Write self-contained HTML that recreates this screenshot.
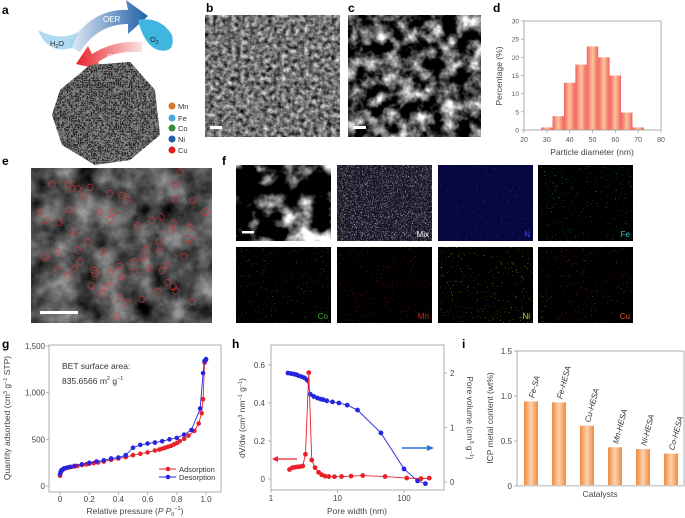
<!DOCTYPE html>
<html><head><meta charset="utf-8"><style>
html,body{margin:0;padding:0;background:#fff}
svg{display:block;font-family:"Liberation Sans",sans-serif}
filter{color-interpolation-filters:sRGB}
</style></head><body>
<svg id="fig" width="685" height="518" viewBox="0 0 685 518" xmlns="http://www.w3.org/2000/svg">
<defs>
<filter id="semB" x="0" y="0" width="100%" height="100%" color-interpolation-filters="sRGB"><feTurbulence type="fractalNoise" baseFrequency="0.22" numOctaves="3" seed="3"/><feColorMatrix type="matrix" values="1.0 0.5 0 0 -0.3  1.0 0.5 0 0 -0.3  1.0 0.5 0 0 -0.3  0 0 0 0 1"/></filter>
<filter id="semC" x="0" y="0" width="100%" height="100%" color-interpolation-filters="sRGB"><feTurbulence type="fractalNoise" baseFrequency="0.07" numOctaves="4" seed="8"/><feColorMatrix type="matrix" values="2 1 0 0 -1.2  2 1 0 0 -1.2  2 1 0 0 -1.2  0 0 0 0 1"/></filter>
<filter id="semE" x="0" y="0" width="100%" height="100%" color-interpolation-filters="sRGB"><feTurbulence type="fractalNoise" baseFrequency="0.04" numOctaves="4" seed="5"/><feColorMatrix type="matrix" values="0.8 0.3 0 0 -0.22  0.8 0.3 0 0 -0.22  0.8 0.3 0 0 -0.22  0 0 0 0 1"/></filter>
<filter id="semF" x="0" y="0" width="100%" height="100%" color-interpolation-filters="sRGB"><feTurbulence type="fractalNoise" baseFrequency="0.035" numOctaves="4" seed="11"/><feColorMatrix type="matrix" values="3.5 1 0 0 -2.1  3.5 1 0 0 -2.1  3.5 1 0 0 -2.1  0 0 0 0 1"/></filter>
<filter id="dots" x="0" y="0" width="100%" height="100%" color-interpolation-filters="sRGB"><feTurbulence type="turbulence" baseFrequency="0.8" numOctaves="1" seed="2"/><feColorMatrix type="matrix" values="0 0 0 0 1  0 0 0 0 1  0 0 0 0 1  8 0 0 0 -3.6"/></filter>
<filter id="mix" x="0" y="0" width="100%" height="100%" color-interpolation-filters="sRGB"><feTurbulence type="turbulence" baseFrequency="0.9" numOctaves="1" seed="4"/><feColorMatrix type="matrix" values="0 0 0 0 0.85  0 0 0 0 0.85  0 0 0 0 1  5 0 0 0 -1.2"/></filter>
<filter id="mol" x="0" y="0" width="100%" height="100%" color-interpolation-filters="sRGB"><feTurbulence type="turbulence" baseFrequency="0.45" numOctaves="2" seed="6"/><feColorMatrix type="matrix" values="0 0 0 0 0.15  0 0 0 0 0.15  0 0 0 0 0.15  4 0 0 0 -0.5"/></filter>
<linearGradient id="barD" x1="0" x2="1"><stop offset="0" stop-color="#f46060"/><stop offset="0.5" stop-color="#fbc79a"/><stop offset="1" stop-color="#f46060"/></linearGradient>
<linearGradient id="barI" x1="0" x2="1"><stop offset="0" stop-color="#f08a3c"/><stop offset="0.5" stop-color="#fbd2b0"/><stop offset="1" stop-color="#f08a3c"/></linearGradient>
<linearGradient id="oer" x1="0" x2="1"><stop offset="0" stop-color="#e8eef6"/><stop offset="1" stop-color="#1f5ea8"/></linearGradient>
<linearGradient id="orr" x1="1" x2="0"><stop offset="0" stop-color="#fbe3e3"/><stop offset="1" stop-color="#e8222a"/></linearGradient>
<clipPath id="molclip"><polygon points="60,90 90,65 130,62 155,90 160,135 130,160 95,165 62,145 52,115"/></clipPath>
<clipPath id="eclip"><rect x="31" y="168" width="181" height="155"/></clipPath>
</defs>

<g font-weight="bold" font-size="12">
<text x="2" y="14">a</text><text x="206" y="12">b</text><text x="348" y="12">c</text><text x="493" y="12">d</text>
<text x="2" y="165">e</text><text x="222" y="165">f</text>
<text x="2" y="348">g</text><text x="232" y="348">h</text><text x="462" y="348">i</text>
</g>

<g>
<path d="M68,46 Q92,8 128,10 L126,0 L148,16 L128,34 L128,24 Q98,24 80,52 Z" fill="url(#oer)"/>
<path d="M142,52 Q115,50 98,62 L102,70 L76,64 L88,46 L92,54 Q115,40 142,42 Z" fill="url(#orr)"/>
<path d="M38,30 Q48,55 72,48 L78,32 Q60,42 38,30Z" fill="#9cd0ef" opacity="0.8"/>
<path d="M138,20 Q160,16 172,35 Q176,54 158,50 Q144,45 138,20Z" fill="#3fb6e0"/>
<text x="103" y="22" font-size="8" fill="#fff">OER</text>
<text x="107" y="60" font-size="8" fill="#fff">ORR</text>
<text x="50" y="46" font-size="7.5" fill="#333">H<tspan font-size="5" dy="2">2</tspan><tspan dy="-2">O</tspan></text>
<text x="150" y="42" font-size="7.5" fill="#222">O<tspan font-size="5" dy="2">2</tspan></text>
<g clip-path="url(#molclip)"><rect x="50" y="60" width="112" height="106" fill="#8a8a8a"/><rect x="50" y="60" width="112" height="106" filter="url(#mol)"/></g>
<g font-size="7.5" fill="#333">
<circle cx="172" cy="106" r="3.5" fill="#d8772e"/><text x="178" y="109">Mn</text>
<circle cx="172" cy="118" r="3.5" fill="#4aa8dc"/><text x="178" y="121">Fe</text>
<circle cx="172" cy="128" r="3.5" fill="#3a8c3a"/><text x="178" y="131">Co</text>
<circle cx="172" cy="139" r="3.5" fill="#1e5fa8"/><text x="178" y="142">Ni</text>
<circle cx="172" cy="150" r="3.5" fill="#e11a1a"/><text x="178" y="153">Cu</text>
</g>
</g>

<g><rect x="205" y="15" width="135" height="122" filter="url(#semB)"/><rect x="210" y="126" width="12" height="3" fill="#fff"/></g>
<g><rect x="348" y="15" width="133" height="122" filter="url(#semC)"/><rect x="353" y="126" width="13" height="3" fill="#fff"/></g>

<g><rect x="31" y="168" width="181" height="155" filter="url(#semE)"/><g id="ecircles" clip-path="url(#eclip)" fill="none" stroke="#e33" stroke-width="0.9" stroke-dasharray="1.5,1"></g><rect x="40" y="311" width="38" height="3" fill="#fff"/></g>

<g id="fpanels"></g>

<g id="charts"></g>
</svg>
<script>
// ---- data ----
const histBins = [30,35,40,45,50,55,60,65,70];
const histVals = [0.7,3.8,13,18,23,20,15,4.8,0.7];
const dYTicks = [0,5,10,15,20,25,30];
const dXTicks = [20,30,40,50,60,70,80];

const adsP = [0,0.005,0.01,0.02,0.04,0.06,0.08,0.1,0.12,0.15,0.18,0.2,0.23,0.26,0.3,0.35,0.4,0.45,0.5,0.55,0.6,0.65,0.68,0.7,0.72,0.74,0.76,0.78,0.8,0.82,0.85,0.88,0.92,0.95,0.97,0.98,0.99,1.0];
const adsQ = [110,140,160,175,190,200,205,210,215,225,232,238,245,252,262,280,295,310,330,345,360,380,390,400,410,420,430,445,460,480,505,540,590,670,780,930,1320,1350];
const desP = [1.0,0.99,0.98,0.96,0.9,0.85,0.8,0.75,0.7,0.65,0.6,0.55,0.5,0.45,0.4,0.35,0.3,0.25,0.2,0.15,0.1,0.07,0.05,0.03,0.02,0.01,0.005,0];
const desQ = [1360,1340,1210,830,600,550,515,500,480,465,455,440,410,330,305,295,275,262,248,232,215,205,198,190,180,170,155,130];
const gYTicks = [0,500,1000,1500];
const gYLabels = ["0","500","1,000","1,500"];
const gXTicks = [0,0.2,0.4,0.6,0.8,1.0];
const gXLabels = ["0","0.2","0.4","0.6","0.8","1.0"];

const psdW = [1.9,2.1,2.3,2.5,2.7,3.0,3.3,3.7,4.1,4.6,5.2,5.8,6.5,7.4,9,11.5,16,24,52,110,180,240];
const psdV = [0.05,0.06,0.062,0.064,0.065,0.068,0.13,0.56,0.1,0.06,0.035,0.022,0.015,0.013,0.012,0.013,0.015,0.018,0.013,0.005,0.002,0.005];
const pvW = [1.8,2.0,2.2,2.4,2.6,2.9,3.2,3.5,3.9,4.4,5.0,5.6,6.1,6.9,8.4,10.5,14,20,45,100,160,210];
const pvV = [2.0,1.99,1.98,1.97,1.95,1.93,1.91,1.87,1.61,1.57,1.54,1.52,1.51,1.49,1.47,1.45,1.41,1.32,0.9,0.24,0.02,-0.03];
const hYTicks = [0,0.2,0.4,0.6];
const hYLabels = ["0","0.2","0.4","0.6"];
const hRTicks = [0,1,2];
const hXTicks = [1,10,100];

const catNames = ["Fe-SA","Fe-HESA","Cu-HESA","Mn-HESA","Ni-HESA","Co-HESA"];
const catVals = [0.94,0.93,0.67,0.43,0.41,0.36];
const iYTicks = [0,0.5,1.0,1.5];
const iYLabels = ["0","0.5","1.0","1.5"];

const NS = "http://www.w3.org/2000/svg";
const root = document.getElementById('charts');
function mk(tag, attrs, parent, text){
  const e = document.createElementNS(NS, tag);
  for (const k in attrs) e.setAttribute(k, attrs[k]);
  if (text !== undefined) e.textContent = text;
  (parent || root).appendChild(e);
  return e;
}
function grp(name){ const g = mk('g', {});   return g; }

const ec = document.getElementById('ecircles');
[[180,181],[175,196],[52,197],[68,197],[72,202],[78,202],[90,200],[110,208],[122,210],[128,216],[84,212],[176,215],[193,216],[205,231],[40,232],[69,228],[113,231],[100,232],[45,242],[59,244],[152,242],[161,237],[138,248],[110,241],[173,245],[172,255],[190,250],[73,256],[88,269],[159,268],[189,265],[57,280],[78,279],[103,280],[146,278],[160,280],[184,287],[45,287],[80,293],[134,293],[143,288],[134,305],[58,303],[94,304],[119,299],[149,301],[162,304],[168,298],[121,312],[168,319],[103,324],[91,323],[112,323],[102,334],[142,340],[120,339],[110,307],[173,324],[158,330],[176,330],[192,343],[128,345],[117,361],[74,302],[68,310],[95,308]].forEach(p=>{
  const c = mk('circle', {cx:p[0], cy:172 + (p[1]-181)*0.8, r:3.2}, ec);
  
  
});

const fp = document.getElementById('fpanels');
const fCols = [236,337,438,538], fRows = [165,247];
const fInfo = [["","#fff"],["Mix","#fff"],["N","#3050ff"],["Fe","#30c8c8"],["Co","#3fb030"],["Mn","#e02020"],["Ni","#d8d820"],["Cu","#e05a2a"]];
fInfo.forEach((f,i)=>{
  const x = fCols[i%4], y = fRows[Math.floor(i/4)];
  const g = mk('g', {}, fp);
  
  
  mk('rect', {x:x, y:y, width:95, height:76, fill:'#000'}, g);
  if (i === 0){ mk('rect', {x:x, y:y, width:95, height:76, filter:'url(#semF)'}, g); mk('rect',{x:x+6,y:y+66,width:12,height:2.5,fill:'#fff'},g); }
  else if (i === 1){ mk('rect', {x:x, y:y, width:95, height:76, fill:'#223', opacity:0.7}, g); mk('rect', {x:x, y:y, width:95, height:76, filter:'url(#mix)', opacity:0.75}, g); }
  else if (i === 2){ mk('rect', {x:x, y:y, width:95, height:76, fill:'#060640'}, g); mk('rect', {x:x, y:y, width:95, height:76, filter:'url(#dots)', opacity:0.3}, g); }
  else {
    const sub = mk('g', {}, g);
    mk('rect', {x:x, y:y, width:95, height:76, filter:'url(#dots)'}, sub);
    mk('rect', {x:x, y:y, width:95, height:76, fill:f[1], style:'mix-blend-mode:multiply'}, sub);
  }
  if (f[0]) mk('text', {x:x+92, y:y+72, 'font-size':8, fill:f[1], 'text-anchor':'end'}, g, f[0]);
});

function box(g,x0,y0,x1,y1){ mk('rect',{x:x0,y:y0,width:x1-x0,height:y1-y0,fill:'none',stroke:'#999','stroke-width':0.8},g); }
const tickFont = {'font-size':8, fill:'#444'};

(function(){
  const g = grp('histogram-d');
  const dx = v => 524 + (v-20)*(137/60);
  const dy = v => 130 - v*(109/30);
  histBins.forEach((b,i)=>{
    const r = mk('rect',{x:dx(b-2.5), y:dy(histVals[i]), width:dx(b+2.5)-dx(b-2.5), height:dy(0)-dy(histVals[i]), fill:'url(#barD)'}, g);
    
    
  });
  box(g,524,21,661,130);
  dYTicks.forEach(t=>{ mk('line',{x1:521,x2:524,y1:dy(t),y2:dy(t),stroke:'#999','stroke-width':0.7},g); mk('text',{x:519,y:dy(t)+2.5,'text-anchor':'end','font-size':6.5,fill:'#555'},g,String(t)); });
  dXTicks.forEach(t=>{ mk('line',{x1:dx(t),x2:dx(t),y1:130,y2:133,stroke:'#999','stroke-width':0.7},g); mk('text',{x:dx(t),y:142,'text-anchor':'middle','font-size':7,fill:'#555'},g,String(t)); });
  const xt = mk('text',{x:592,y:155,'text-anchor':'middle','font-size':8.5,fill:'#444'},g,'Particle diameter (nm)');
   
  const yt = mk('text',{x:0,y:0,transform:'translate(502,76) rotate(-90)','text-anchor':'middle','font-size':8.5,fill:'#444'},g,'Percentage (%)');
   
})();

(function(){
  const g = grp('isotherm-g');
  const gx = v => 60 + v*146;
  const gy = v => 486 - v*(140/1500);
  box(g,49,345,221,492);
  gYTicks.forEach((t,i)=>{ mk('line',{x1:46,x2:49,y1:gy(t),y2:gy(t),stroke:'#999','stroke-width':0.7},g); mk('text',Object.assign({x:45,y:gy(t)+3,'text-anchor':'end'},tickFont),g,gYLabels[i]); });
  gXTicks.forEach((t,i)=>{ mk('line',{x1:gx(t),x2:gx(t),y1:492,y2:495,stroke:'#999','stroke-width':0.7},g); mk('text',Object.assign({x:gx(t),y:502,'text-anchor':'middle'},tickFont),g,gXLabels[i]); });
  function series(P,Q,col,name){
    const s = mk('g',{},g);  
    mk('polyline',{points:P.map((p,i)=>gx(p)+','+gy(Q[i])).join(' '),fill:'none',stroke:col,'stroke-width':0.9},s);
    P.forEach((p,i)=>{ const c = mk('circle',{cx:gx(p),cy:gy(Q[i]),r:2.3,fill:col},s);   });
  }
  series(adsP,adsQ,'#e8202a','adsorption-series');
  series(desP,desQ,'#2525e0','desorption-series');
  mk('text',{x:62,y:369,'font-size':8.5,fill:'#333'},g,'BET surface area:');
  const t2 = mk('text',{x:62,y:384,'font-size':8.5,fill:'#333'},g);
  t2.innerHTML = '835.6566 m<tspan font-size="5.5" dy="-4">2</tspan><tspan dy="4"> g</tspan><tspan font-size="5.5" dy="-4">−1</tspan>';
  const lg = mk('g',{},g);  
  [['Adsorption','#e8202a',469],['Desorption','#2525e0',477]].forEach(l=>{
    mk('line',{x1:159,x2:176,y1:l[2],y2:l[2],stroke:l[1],'stroke-width':1},lg);
    mk('circle',{cx:168,cy:l[2],r:2.3,fill:l[1]},lg);
    mk('text',{x:179,y:l[2]+3,'font-size':7.5,fill:'#333'},lg,l[0]);
  });
  const xt = mk('text',{x:135,y:514,'text-anchor':'middle','font-size':8.5,fill:'#444'},g);
  xt.innerHTML = 'Relative pressure (<tspan font-style="italic">P P</tspan><tspan font-size="5.5" dy="2">0</tspan><tspan font-size="5.5" dy="-6">−1</tspan><tspan dy="4">)</tspan>';
   
  const yt = mk('text',{x:0,y:0,transform:'translate(10,418) rotate(-90)','text-anchor':'middle','font-size':8.5,fill:'#444'},g);
  yt.innerHTML = 'Quantity adsorbed (cm<tspan font-size="5.5" dy="-3">3</tspan><tspan dy="3"> g</tspan><tspan font-size="5.5" dy="-3">−1</tspan><tspan dy="3"> STP)</tspan>';
   
})();

(function(){
  const g = grp('pore-distribution-h');
  const hx = v => 271 + Math.log10(v)*66.5;
  const hy = v => 479 - v*190;
  const hr = v => 482 - v*54.5;
  box(g,271,345,444,490);
  hYTicks.forEach((t,i)=>{ mk('line',{x1:268,x2:271,y1:hy(t),y2:hy(t),stroke:'#999','stroke-width':0.7},g); mk('text',Object.assign({x:265,y:hy(t)+3,'text-anchor':'end'},tickFont),g,hYLabels[i]); });
  hRTicks.forEach(t=>{ mk('line',{x1:444,x2:447,y1:hr(t),y2:hr(t),stroke:'#999','stroke-width':0.7},g); mk('text',Object.assign({x:450,y:hr(t)+3},tickFont),g,String(t)); });
  hXTicks.forEach(t=>{ mk('line',{x1:hx(t),x2:hx(t),y1:490,y2:493,stroke:'#999','stroke-width':0.7},g); mk('text',Object.assign({x:hx(t),y:501,'text-anchor':'middle'},tickFont),g,String(t)); });
  function series(W,V,f,col,name){
    const s = mk('g',{},g);  
    mk('polyline',{points:W.map((w,i)=>hx(w)+','+f(V[i])).join(' '),fill:'none',stroke:col,'stroke-width':0.9},s);
    W.forEach((w,i)=>{ const c = mk('circle',{cx:hx(w),cy:f(V[i]),r:2.4,fill:col},s);   });
  }
  series(pvW,pvV,hr,'#2525e0','pore-volume-series');
  series(psdW,psdV,hy,'#e8202a','dvdw-series');
  const a1 = mk('g',{},g);  
  mk('line',{x1:297,x2:277,y1:459,y2:459,stroke:'#e8202a','stroke-width':1.2},a1);
  mk('polygon',{points:'272,459 278,456 278,462',fill:'#e8202a'},a1);
  const a2 = mk('g',{},g);  
  mk('line',{x1:402,x2:428,y1:448,y2:448,stroke:'#2b6fe0','stroke-width':1.4},a2);
  mk('polygon',{points:'434,448 427,445 427,451',fill:'#2b6fe0'},a2);
  mk('text',{x:357,y:514,'text-anchor':'middle','font-size':8.5,fill:'#444'},g,'Pore width (nm)');
  const yt = mk('text',{x:0,y:0,transform:'translate(245,418) rotate(-90)','text-anchor':'middle','font-size':8.5,fill:'#444'},g);
  yt.innerHTML = 'dV/dw (cm<tspan font-size="5.5" dy="-3">3</tspan><tspan dy="3"> nm</tspan><tspan font-size="5.5" dy="-3">−1</tspan><tspan dy="3"> g</tspan><tspan font-size="5.5" dy="-3">−1</tspan><tspan dy="3">)</tspan>';
  const rt = mk('text',{x:0,y:0,transform:'translate(467,418) rotate(90)','text-anchor':'middle','font-size':8.5,fill:'#444'},g);
  rt.innerHTML = 'Pore volume (cm<tspan font-size="5.5" dy="-3">3</tspan><tspan dy="3"> g</tspan><tspan font-size="5.5" dy="-3">−1</tspan><tspan dy="3">)</tspan>';
})();

(function(){
  const g = grp('icp-bar-chart-i');
  const iy = v => 486 - v*90;
  const ix = i => 531 + i*28;
  box(g,517,351,684,486);
  iYTicks.forEach((t,i)=>{ mk('line',{x1:514,x2:517,y1:iy(t),y2:iy(t),stroke:'#999','stroke-width':0.7},g); mk('text',Object.assign({x:512,y:iy(t)+3,'text-anchor':'end'},tickFont),g,iYLabels[i]); });
  catVals.forEach((v,i)=>{
    const r = mk('rect',{x:ix(i)-7,y:iy(v),width:14,height:iy(0)-iy(v),fill:'url(#barI)'},g);
    
    
    mk('text',{x:0,y:0,transform:`translate(${ix(i)+3},${iy(v)-3}) rotate(-75)`,'font-size':8,'font-style':'italic',fill:'#333'},g,catNames[i]);
  });
  mk('rect',{x:518,y:485,width:166,height:1.5,fill:'#ccc'},g);
  mk('text',{x:600,y:497,'text-anchor':'middle','font-size':8.5,fill:'#444'},g,'Catalysts');
  mk('text',{x:0,y:0,transform:'translate(493,418) rotate(-90)','text-anchor':'middle','font-size':8.5,fill:'#444'},g,'ICP metal content (wt%)');
})();
</script>
</body></html>
